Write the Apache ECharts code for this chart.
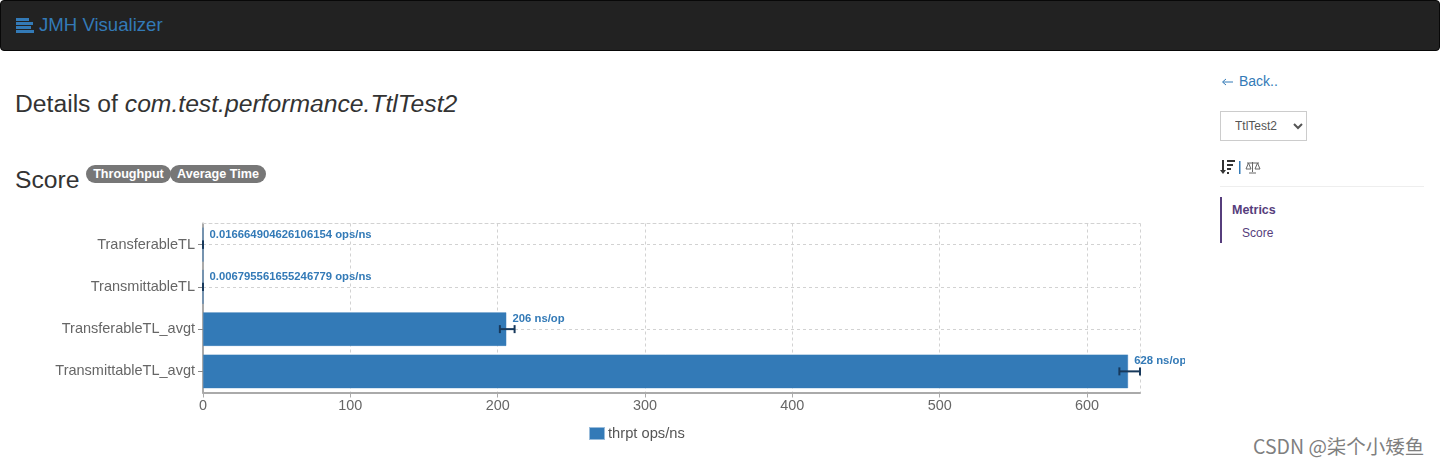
<!DOCTYPE html>
<html>
<head>
<meta charset="utf-8">
<title>JMH Visualizer</title>
<script src="https://cdn.jsdelivr.net/npm/echarts@6/dist/echarts.min.js"></script>
<style>
  html, body { margin: 0; padding: 0; width: 1440px; height: 467px; overflow: hidden; background: #fff;
    font-family: "Liberation Sans", Arial, sans-serif; color: #333; }
  .abs { position: absolute; white-space: nowrap; }
  #nav { left: 0; top: 0; width: 1438px; height: 49px; background: #222; border: 1px solid #080808; border-radius: 4px; }
  #brand { left: 39px; top: 15px; font-size: 18.600px; line-height: 20px; color: #337ab7; }
  .ibar { position: absolute; height: 3px; background: #337ab7; }
  h3 { margin: 0; font-weight: 400; font-size: 24.700px; line-height: 26px; }
  .badge { top: 165px; height: 18px; line-height: 18px; background: #777; color: #fff; font-size: 12.600px; font-weight: 700;
    border-radius: 9px; text-align: center; }
  #chart { left: 0; top: 205px; width: 1185px; height: 250px; }
  select { left: 1220px; top: 111px; width: 87px; height: 30px; background: #fff; border: 1px solid #ccc; color: #555;
    font: 12px "Liberation Sans", Arial, sans-serif; padding-left: 10px; }
</style>
</head>
<body>
<div id="nav" class="abs"></div>
<div class="ibar" style="left:16px;top:18px;width:13px"></div>
<div class="ibar" style="left:16px;top:22px;width:17px"></div>
<div class="ibar" style="left:16px;top:26px;width:15px"></div>
<div class="ibar" style="left:16px;top:30px;width:18px"></div>
<div id="brand" class="abs">JMH Visualizer</div>

<h3 class="abs" style="left:15px;top:91px">Details of <i>com.test.performance.TtlTest2</i></h3>
<h3 class="abs" style="left:15px;top:167px">Score</h3>
<div class="abs badge" style="left:86px;width:85px">Throughput</div>
<div class="abs badge" style="left:170px;width:96px">Average Time</div>

<div id="chart" class="abs"></div>

<svg class="abs" style="left:1221px;top:77px" width="13" height="10" viewBox="0 0 13 10">
  <path d="M12 5H2M5 2L1.500 5L5 8" fill="none" stroke="#337ab7" stroke-width="1"/>
</svg>
<div class="abs" style="left:1239px;top:73px;font-size:14px;line-height:16px;color:#337ab7">Back..</div>
<select class="abs"><option>TtlTest2</option></select>
<svg class="abs" style="left:1220px;top:159px" width="42" height="17" viewBox="0 0 42 17">
  <g fill="#333">
    <rect x="2" y="1" width="2" height="12"/><path d="M0 11h6l-3 4z"/>
    <rect x="7" y="1" width="8" height="2"/><rect x="7" y="5" width="6" height="2"/>
    <rect x="7" y="9" width="4" height="2"/><rect x="7" y="13" width="2" height="2"/>
  </g>
  <rect x="19" y="2" width="1.500" height="13" fill="#337ab7"/>
  <g fill="none" stroke="#666" stroke-width="1">
    <path d="M32.500 3v10M29 14h7M27 4h12M28.500 4l-2.500 6h5zM37.500 4l-2.500 6h5z"/>
  </g>
</svg>
<div class="abs" style="left:1220px;top:186px;width:204px;height:1px;background:#eee"></div>
<div class="abs" style="left:1220px;top:197px;width:2px;height:46px;background:#563d7c"></div>
<div class="abs" style="left:1232px;top:203px;font-size:12.500px;line-height:15px;font-weight:700;color:#563d7c">Metrics</div>
<div class="abs" style="left:1242px;top:226px;font-size:12px;line-height:15px;color:#563d7c">Score</div>
<div class="abs" style="left:1253px;top:435px;font-family:'Noto Sans CJK SC',sans-serif;font-size:19.500px;line-height:22px;color:#7f7f7f">CSDN @柒个小矮鱼</div>

<script>
const categories = ['TransferableTL', 'TransmittableTL', 'TransferableTL_avgt', 'TransmittableTL_avgt']
const scores = [0.016664904626106154, 0.006795561655246779, 206, 628]
const errorLow = [0.0165, 0.0066, 201.5, 622]
const errorHigh = [0.0168, 0.0070, 211.5, 636]
const scoreLabels = ['0.016664904626106154 ops/ns', '0.006795561655246779 ops/ns', '206 ns/op', '628 ns/op']
const legendName = 'thrpt ops/ns'
const axisMax = 636

const chart = echarts.init(document.getElementById('chart'), null, { renderer: 'canvas' })

function renderErrorBar(params, api) {
  const low = api.coord([api.value(1), api.value(0)])
  const high = api.coord([api.value(2), api.value(0)])
  const cap = 4
  const style = { stroke: '#17395c', lineWidth: 2, fill: null }
  return {
    type: 'group',
    children: [
      { type: 'line', shape: { x1: low[0], y1: low[1], x2: high[0], y2: high[1] }, style },
      { type: 'line', shape: { x1: low[0], y1: low[1] - cap, x2: low[0], y2: low[1] + cap }, style },
      { type: 'line', shape: { x1: high[0], y1: high[1] - cap, x2: high[0], y2: high[1] + cap }, style }
    ]
  }
}

chart.setOption({
  animation: false,
  textStyle: { fontFamily: '"Liberation Sans", Arial, sans-serif' },
  grid: { left: 203, top: 18.5, width: 937, height: 169, containLabel: false },
  legend: {
    data: [legendName],
    icon: 'rect',
    left: 584,
    top: 216,
    itemWidth: 14,
    itemHeight: 11,
    itemGap: 4,
    textStyle: { color: '#555', fontSize: 14.7, padding: [0, 0, 0, -1] }
  },
  xAxis: [
    {
      type: 'value',
      min: 0,
      max: axisMax,
      interval: 100,
      axisLine: { show: true, lineStyle: { color: '#aaa', width: 2 } },
      axisTick: { show: true, length: 5, lineStyle: { color: '#aaa', width: 1 } },
      axisLabel: { color: '#666', fontSize: 14.4, margin: 7, showMaxLabel: false },
      splitLine: { show: true, lineStyle: { color: '#d2d2d2', type: [3, 3], width: 1 } }
    },
    {
      type: 'value',
      position: 'top',
      min: 0,
      max: axisMax,
      axisLine: { show: true, lineStyle: { color: '#d2d2d2', type: [3, 3], width: 1 } },
      axisTick: { show: false },
      axisLabel: { show: false },
      splitLine: { show: false }
    }
  ],
  yAxis: {
    type: 'category',
    inverse: true,
    data: categories,
    axisLine: { show: true, lineStyle: { color: '#aaa', width: 2 } },
    axisTick: { show: true, alignWithLabel: true, length: 5, lineStyle: { color: '#888', width: 1 } },
    axisLabel: { color: '#666', fontSize: 14.5, margin: 8, padding: [4, 0, 0, 0] },
    splitLine: { show: true, alignWithLabel: true, lineStyle: { color: '#d2d2d2', type: [3, 3], width: 1 } }
  },
  series: [
    {
      name: legendName,
      type: 'bar',
      barWidth: 34,
      itemStyle: { color: '#337ab7', borderColor: 'rgba(51,122,183,0.5)', borderWidth: 1 },
      data: scores.map((value, i) => ({
        value,
        label: { formatter: scoreLabels[i] }
      })),
      label: {
        show: true,
        position: 'right',
        distance: 0,
        offset: [6, -10],
        color: '#337ab7',
        fontSize: 11.3,
        fontWeight: 'bold'
      }
    },
    {
      type: 'custom',
      renderItem: renderErrorBar,
      encode: { x: [1, 2], y: 0 },
      clip: false,
      z: 5,
      data: categories.map((c, i) => [i, errorLow[i], errorHigh[i]])
    }
  ]
})
</script>
</body>
</html>
